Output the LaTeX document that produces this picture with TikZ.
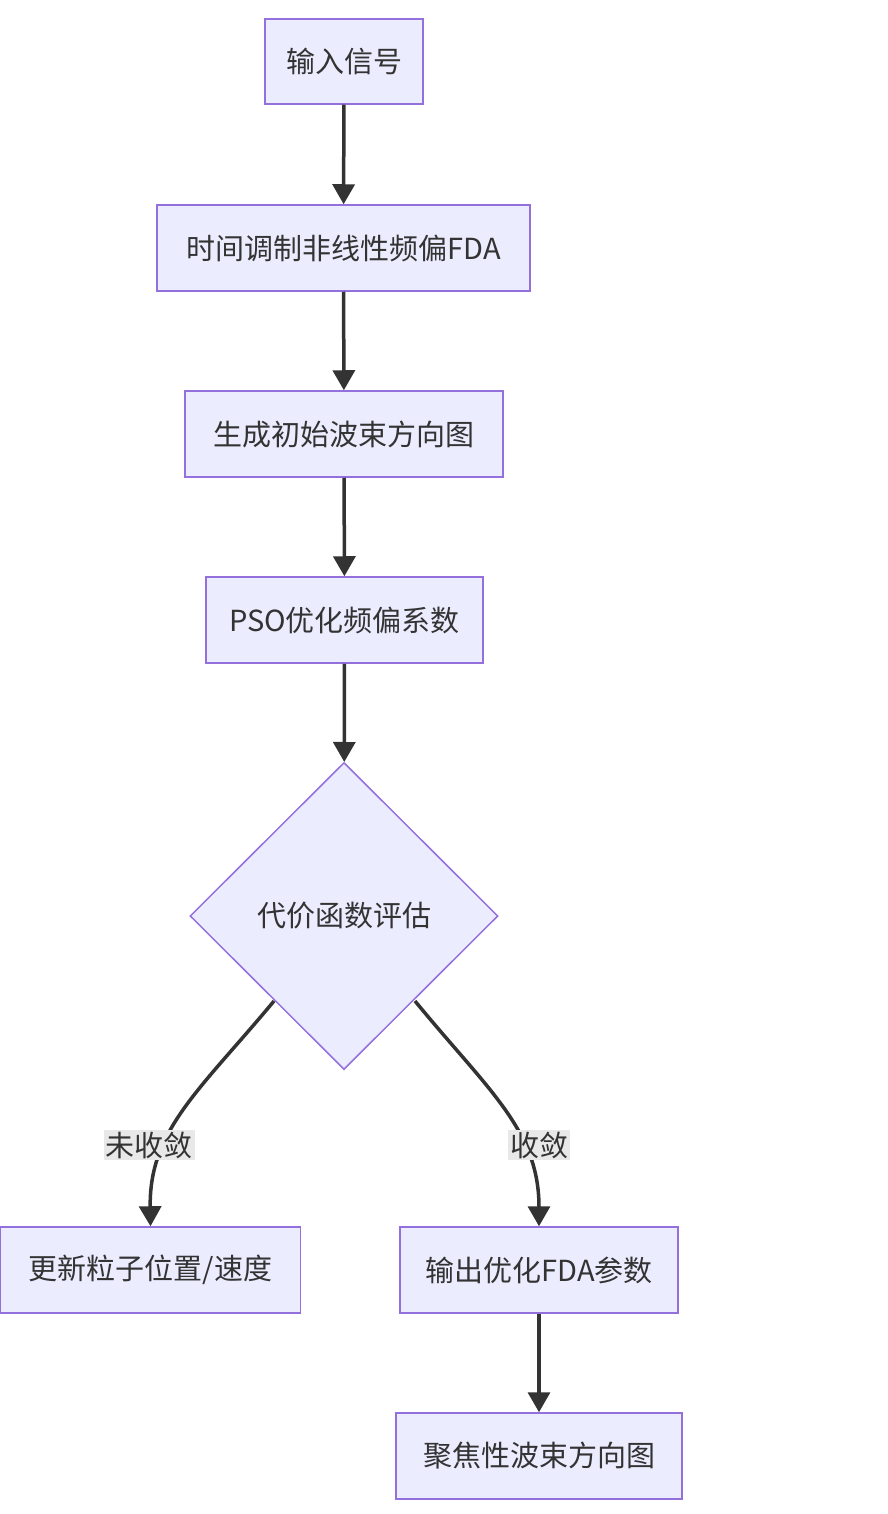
\documentclass[tikz,border=0pt]{standalone}
\usepackage{fontspec}
\setmainfont{Noto Sans CJK SC}
\usetikzlibrary{shapes.geometric,arrows.meta}
\definecolor{nfill}{HTML}{ECECFF}
\definecolor{nstroke}{HTML}{9370DB}
\definecolor{edge}{HTML}{333333}
\definecolor{lblbg}{HTML}{E8E8E8}
\begin{document}
\begin{tikzpicture}[x=1pt,y=-1pt,
  box/.style={draw=nstroke,fill=nfill,line width=1.5pt,inner sep=0pt,font=\fontsize{29}{34}\selectfont,text=edge},
  dia/.style={draw=nstroke,fill=nfill,line width=1.5pt,diamond,inner sep=0pt,minimum width=308pt,minimum height=307pt,font=\fontsize{29}{34}\selectfont,text=edge},
  arr/.style={draw=edge,line width=3.5pt,-{Triangle[length=20pt,width=22pt]}},
  lbl/.style={fill=lblbg,inner sep=2pt,font=\fontsize{29}{34}\selectfont,text=edge}]
\useasboundingbox (0,0) rectangle (888,1514);
\node[box,minimum width=158pt,minimum height=85pt] (a) at (344,61.5) {输入信号};
\node[box,minimum width=373pt,minimum height=86pt] (b) at (343.5,248) {时间调制非线性频偏FDA};
\node[box,minimum width=318pt,minimum height=86pt] (c) at (344,434) {生成初始波束方向图};
\node[box,minimum width=277pt,minimum height=86pt] (d) at (344.5,620) {PSO优化频偏系数};
\node[dia] (e) at (344,916) {代价函数评估};
\node[box,minimum width=300pt,minimum height=86pt] (f) at (150.5,1270) {更新粒子位置/速度};
\node[box,minimum width=278pt,minimum height=86pt] (g) at (539,1270) {输出优化FDA参数};
\node[box,minimum width=286pt,minimum height=86pt] (h) at (539,1456) {聚焦性波束方向图};
\draw[arr] (a) -- (b);
\draw[arr] (b) -- (c);
\draw[arr] (c) -- (d);
\draw[arr] (d) -- (e);
\coordinate (el) at (274,1001);
\coordinate (er) at (415,1001);
\draw[arr] (el) .. controls (200,1090) and (149,1130) .. (f.north);
\draw[arr] (er) .. controls (488,1090) and (539,1130) .. (g.north);
\node[lbl] (l1) at (149,1145) {未收敛};
\node[lbl] (l2) at (539,1145) {收敛};
\draw[arr] (g) -- (h);
\end{tikzpicture}
\end{document}
